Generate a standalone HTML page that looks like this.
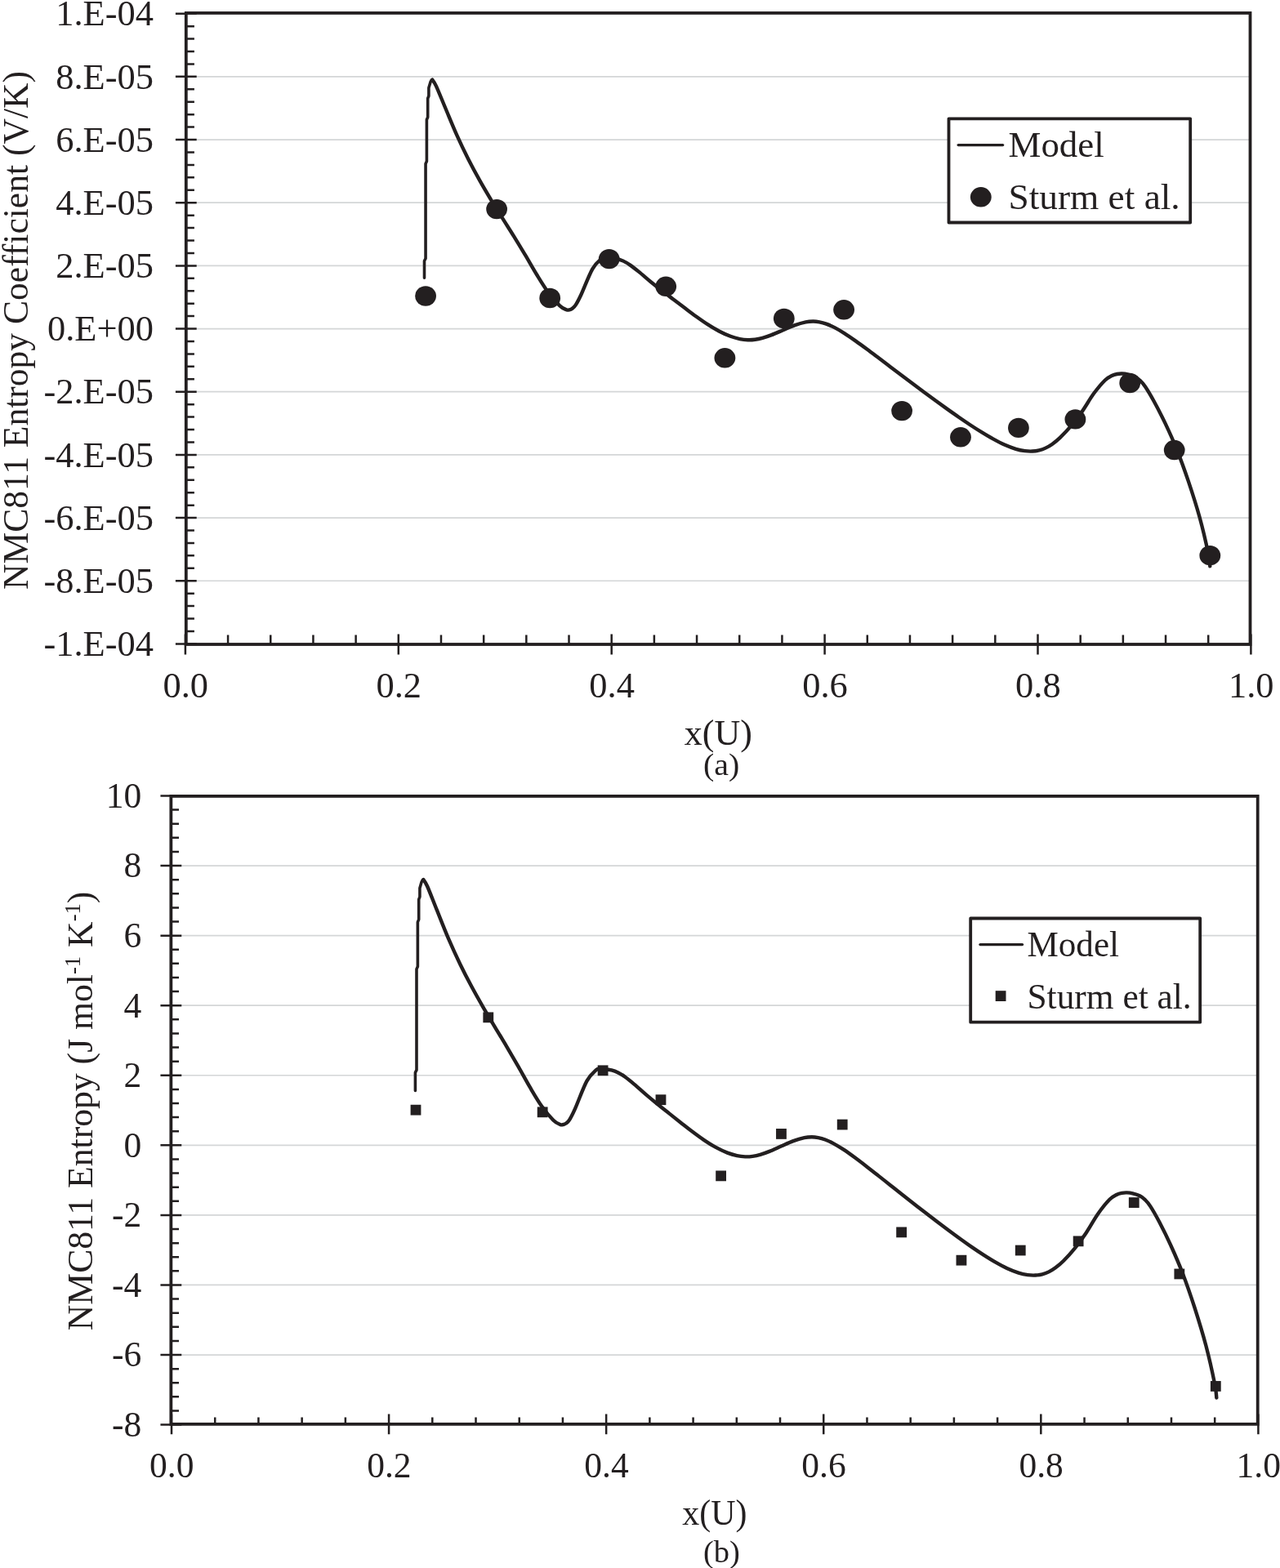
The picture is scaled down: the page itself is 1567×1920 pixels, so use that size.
<!DOCTYPE html>
<html lang="en"><head><meta charset="utf-8"><title>NMC811 entropy coefficient and entropy vs x(U)</title>
<style>html,body{margin:0;padding:0;background:#fff;overflow:hidden}svg{display:block}text{font-family:"Liberation Serif",serif;font-size:45px;fill:#231f20}</style></head>
<body><svg width="1567" height="1920" viewBox="0 0 1567 1920">
<rect width="1567" height="1920" fill="#fff"/>
<g class="chart chart-a">
<g class="grid" stroke="#d4d6d7" stroke-width="1.7" fill="none">
<path d="M226.9 93.87H1531.4M226.9 171.04H1531.4M226.9 248.21H1531.4M226.9 325.38H1531.4M226.9 402.55H1531.4M226.9 479.72H1531.4M226.9 556.89H1531.4M226.9 634.06H1531.4M226.9 711.23H1531.4"/>
</g>
<rect class="legend-box" x="1161.5" y="145.3" width="295.7" height="127.2" fill="#fff" stroke="none"/>
<g class="axes" stroke="#231f20" fill="none" stroke-linecap="butt">
<rect class="frame" x="227.8" y="15.95" width="1302.7" height="773.05" stroke-width="3.8"/>
<path class="ticks-major" stroke-width="2.5" d="M214.9 16.7H240.7M214.9 93.87H240.7M214.9 171.04H240.7M214.9 248.21H240.7M214.9 325.38H240.7M214.9 402.55H240.7M214.9 479.72H240.7M214.9 556.89H240.7M214.9 634.06H240.7M214.9 711.23H240.7M214.9 788.4H240.7M226.9 776.6V801.4M487.8 776.6V801.4M748.7 776.6V801.4M1009.6 776.6V801.4M1270.5 776.6V801.4M1531.4 776.6V801.4"/>
<path class="ticks-minor" stroke-width="2.5" d="M227.8 32.13H237.9M227.8 47.57H237.9M227.8 63H237.9M227.8 78.44H237.9M227.8 109.3H237.9M227.8 124.74H237.9M227.8 140.17H237.9M227.8 155.61H237.9M227.8 186.47H237.9M227.8 201.91H237.9M227.8 217.34H237.9M227.8 232.78H237.9M227.8 263.64H237.9M227.8 279.08H237.9M227.8 294.51H237.9M227.8 309.95H237.9M227.8 340.81H237.9M227.8 356.25H237.9M227.8 371.68H237.9M227.8 387.12H237.9M227.8 417.98H237.9M227.8 433.42H237.9M227.8 448.85H237.9M227.8 464.29H237.9M227.8 495.15H237.9M227.8 510.59H237.9M227.8 526.02H237.9M227.8 541.46H237.9M227.8 572.32H237.9M227.8 587.76H237.9M227.8 603.19H237.9M227.8 618.63H237.9M227.8 649.49H237.9M227.8 664.93H237.9M227.8 680.36H237.9M227.8 695.8H237.9M227.8 726.66H237.9M227.8 742.1H237.9M227.8 757.53H237.9M227.8 772.97H237.9M279.08 789V777.4M331.26 789V777.4M383.44 789V777.4M435.62 789V777.4M539.98 789V777.4M592.16 789V777.4M644.34 789V777.4M696.52 789V777.4M800.88 789V777.4M853.06 789V777.4M905.24 789V777.4M957.42 789V777.4M1061.78 789V777.4M1113.96 789V777.4M1166.14 789V777.4M1218.32 789V777.4M1322.68 789V777.4M1374.86 789V777.4M1427.04 789V777.4M1479.22 789V777.4"/>
</g>
<g class="model" fill="none" stroke="#231f20" stroke-linejoin="round" stroke-linecap="round">
<path stroke-width="3.6" d="M519.5 340.2L519.5 319.5L521.05 316.5L521.05 200.5L522.4 197.5L522.4 146.5L523.7 143.5L523.7 120.5L524.9 117.5L524.9 107.5L526.1 103.5L527 100.4L528 98.5L529.2 97.6"/>
<path stroke-width="4.4" d="M529.2 97.6C529.99 98.89 531.27 99.55 533.94 105.32C536.61 111.09 541.02 122.23 545.24 132.24C549.46 142.25 554.57 154.95 559.24 165.36C563.91 175.77 568.57 185.45 573.24 194.7C577.91 203.95 582.57 212.53 587.24 220.88C591.91 229.23 596.57 237.06 601.24 244.81C605.91 252.56 610.57 259.9 615.24 267.37C619.91 274.84 624.57 282.05 629.24 289.61C633.91 297.17 638.57 304.89 643.24 312.71C647.91 320.53 652.57 328.94 657.24 336.51C661.91 344.08 666.57 351.82 671.24 358.12C675.91 364.42 681.55 370.82 685.24 374.33C688.93 377.84 691.39 378.38 693.39 379.2C695.39 380.02 696.02 379.53 697.23 379.28C698.44 379.03 699.39 378.7 700.65 377.72C701.91 376.74 703 376.2 704.78 373.42C706.56 370.64 707.89 368.37 711.31 361.02C714.73 353.67 721.09 336.77 725.31 329.35C729.53 321.93 734.05 318.81 736.65 316.49C739.25 314.17 739.36 315.61 740.93 315.43C742.5 315.25 743.73 315.21 746.08 315.43C748.44 315.65 752.23 316.07 755.06 316.77C757.89 317.47 760.37 318.37 763.04 319.63C765.71 320.89 767.91 322.12 771.11 324.32C774.31 326.52 778.05 329.46 782.24 332.85C786.43 336.24 791.57 340.85 796.24 344.68C800.91 348.51 805.57 352.2 810.24 355.83C814.91 359.46 819.57 362.94 824.24 366.48C828.91 370.02 833.57 373.56 838.24 377.06C842.91 380.56 847.57 384.14 852.24 387.49C856.91 390.84 861.57 394.17 866.24 397.17C870.91 400.17 875.57 403.05 880.24 405.49C884.91 407.93 890 410.21 894.24 411.81C898.48 413.41 902.14 414.33 905.68 415.07C909.22 415.81 912.36 416.11 915.48 416.23C918.6 416.35 921.4 416.17 924.4 415.78C927.4 415.39 930.13 414.82 933.49 413.88C936.85 412.94 940.38 411.75 944.56 410.14C948.74 408.53 953.89 406.2 958.56 404.24C963.23 402.28 967.92 400.04 972.56 398.4C977.2 396.76 982.59 395.19 986.42 394.38C990.25 393.57 992.72 393.55 995.52 393.54C998.32 393.53 1000.55 393.81 1003.22 394.33C1005.89 394.84 1008.53 395.53 1011.55 396.63C1014.57 397.73 1017.65 399.01 1021.33 400.92C1025.01 402.83 1029.26 405.31 1033.65 408.09C1038.04 410.87 1042.98 414.33 1047.65 417.61C1052.32 420.89 1056.98 424.33 1061.65 427.78C1066.32 431.23 1070.98 434.77 1075.65 438.29C1080.32 441.81 1084.98 445.37 1089.65 448.91C1094.32 452.45 1098.98 456 1103.65 459.52C1108.32 463.04 1112.98 466.56 1117.65 470.06C1122.32 473.56 1126.98 477.05 1131.65 480.51C1136.32 483.97 1140.98 487.4 1145.65 490.8C1150.32 494.2 1154.98 497.57 1159.65 500.9C1164.32 504.22 1168.98 507.53 1173.65 510.75C1178.32 513.97 1182.98 517.16 1187.65 520.23C1192.32 523.3 1196.98 526.3 1201.65 529.16C1206.32 532.02 1210.98 534.84 1215.65 537.4C1220.32 539.96 1224.98 542.46 1229.65 544.53C1234.32 546.6 1239.47 548.55 1243.65 549.82C1247.83 551.1 1251.32 551.72 1254.71 552.18C1258.1 552.64 1261.09 552.71 1263.99 552.57C1266.89 552.44 1269.48 552.03 1272.14 551.37C1274.8 550.71 1277.3 549.86 1279.94 548.62C1282.58 547.38 1285.03 546.05 1288 543.92C1290.97 541.79 1293.96 539.52 1297.78 535.85C1301.6 532.18 1306.37 527.25 1310.89 521.88C1315.41 516.51 1320.22 510.27 1324.89 503.63C1329.56 496.99 1334.22 488.42 1338.89 482.06C1343.56 475.7 1349.17 469.13 1352.89 465.46C1356.61 461.78 1358.76 461.25 1361.2 460.01C1363.64 458.77 1365.45 458.41 1367.55 458C1369.64 457.59 1371.59 457.49 1373.77 457.56C1375.95 457.63 1378.07 457.83 1380.62 458.44C1383.17 459.05 1386.64 460.06 1389.07 461.23C1391.5 462.4 1393.09 463.48 1395.22 465.48C1397.36 467.48 1398.98 468.95 1401.88 473.25C1404.78 477.55 1408.51 483.71 1412.63 491.28C1416.76 498.85 1421.96 508.83 1426.63 518.67C1431.3 528.51 1435.96 538.67 1440.63 550.33C1445.3 562 1449.96 574.79 1454.63 588.66C1459.3 602.53 1464.54 618.7 1468.63 633.54C1472.73 648.38 1477.09 667.73 1479.2 677.71C1481.31 687.69 1480.95 690.78 1481.3 693.4"/>
</g>
<g class="markers" fill="#231f20">
<ellipse cx="521.06" cy="362.5" rx="12.9" ry="12.2"/>
<ellipse cx="608.1" cy="256.1" rx="12.9" ry="12.2"/>
<ellipse cx="673.2" cy="365" rx="12.9" ry="12.2"/>
<ellipse cx="745.7" cy="317.1" rx="12.9" ry="12.2"/>
<ellipse cx="815.2" cy="350.8" rx="12.9" ry="12.2"/>
<ellipse cx="887.4" cy="438.3" rx="12.9" ry="12.2"/>
<ellipse cx="959.8" cy="390" rx="12.9" ry="12.2"/>
<ellipse cx="1033.1" cy="379.3" rx="12.9" ry="12.2"/>
<ellipse cx="1104.1" cy="503.1" rx="12.9" ry="12.2"/>
<ellipse cx="1176" cy="535.3" rx="12.9" ry="12.2"/>
<ellipse cx="1246.9" cy="523.9" rx="12.9" ry="12.2"/>
<ellipse cx="1316.4" cy="513.4" rx="12.9" ry="12.2"/>
<ellipse cx="1383.2" cy="469" rx="12.9" ry="12.2"/>
<ellipse cx="1437.7" cy="551.05" rx="12.9" ry="12.2"/>
<ellipse cx="1481.3" cy="680.15" rx="12.9" ry="12.2"/>
</g>
<g class="legend">
<rect x="1161.5" y="145.3" width="295.7" height="127.2" fill="none" stroke="#231f20" stroke-width="3.8" stroke-linejoin="round"/>
<path d="M1173.2 177.6H1227.6" stroke="#231f20" stroke-width="3.4" stroke-linecap="round" fill="none"/>
<ellipse cx="1200.8" cy="241.3" rx="12.9" ry="12.2" fill="#231f20"/>
<text transform="translate(1234.5 191.8) scale(0.9973 1)">Model</text>
<text transform="translate(1234.5 255.8) scale(1.0071 1)">Sturm et al.</text>
</g>
<g class="ylabels">
<text transform="translate(187.9 31.4) scale(0.9876 1)" text-anchor="end">1.E-04</text>
<text transform="translate(187.9 108.57) scale(0.9876 1)" text-anchor="end">8.E-05</text>
<text transform="translate(187.9 185.74) scale(0.9876 1)" text-anchor="end">6.E-05</text>
<text transform="translate(187.9 262.91) scale(0.9876 1)" text-anchor="end">4.E-05</text>
<text transform="translate(187.9 340.08) scale(0.9876 1)" text-anchor="end">2.E-05</text>
<text transform="translate(187.9 417.25) scale(0.9876 1)" text-anchor="end">0.E+00</text>
<text transform="translate(187.9 494.42) scale(0.9876 1)" text-anchor="end">-2.E-05</text>
<text transform="translate(187.9 571.59) scale(0.9876 1)" text-anchor="end">-4.E-05</text>
<text transform="translate(187.9 648.76) scale(0.9876 1)" text-anchor="end">-6.E-05</text>
<text transform="translate(187.9 725.93) scale(0.9876 1)" text-anchor="end">-8.E-05</text>
<text transform="translate(187.9 803.1) scale(0.9876 1)" text-anchor="end">-1.E-04</text>
</g>
<g class="xlabels">
<text transform="translate(227.3 854.3) scale(0.9876 1)" text-anchor="middle">0.0</text>
<text transform="translate(488.2 854.3) scale(0.9876 1)" text-anchor="middle">0.2</text>
<text transform="translate(749.1 854.3) scale(0.9876 1)" text-anchor="middle">0.4</text>
<text transform="translate(1010 854.3) scale(0.9876 1)" text-anchor="middle">0.6</text>
<text transform="translate(1270.9 854.3) scale(0.9876 1)" text-anchor="middle">0.8</text>
<text transform="translate(1531.8 854.3) scale(0.9876 1)" text-anchor="middle">1.0</text>
</g>
<text transform="translate(33.7 404.5) rotate(-90) scale(0.9680 1)" text-anchor="middle">NMC811 Entropy Coefficient (V/K)</text>
<text transform="translate(879.4 912.3) scale(0.9778 1)" text-anchor="middle">x(U)</text>
<text transform="translate(883.1 948.7) scale(1.05 1)" text-anchor="middle" style="font-size:38px">(a)</text>
</g>
<g class="chart chart-b">
<g class="grid" stroke="#d4d6d7" stroke-width="1.7" fill="none">
<path d="M210 1060.07H1540.4M210 1145.63H1540.4M210 1231.2H1540.4M210 1316.77H1540.4M210 1402.33H1540.4M210 1487.9H1540.4M210 1573.47H1540.4M210 1659.03H1540.4"/>
</g>
<rect class="legend-box" x="1188.2" y="1124.5" width="281" height="127.2" fill="#fff" stroke="none"/>
<g class="axes" stroke="#231f20" fill="none" stroke-linecap="butt">
<rect class="frame" x="209.35" y="974.9" width="1330.35" height="768.95" stroke-width="3.8"/>
<path class="ticks-major" stroke-width="2.5" d="M196.45 974.5H222.25M196.45 1060.07H222.25M196.45 1145.63H222.25M196.45 1231.2H222.25M196.45 1316.77H222.25M196.45 1402.33H222.25M196.45 1487.9H222.25M196.45 1573.47H222.25M196.45 1659.03H222.25M196.45 1744.6H222.25M210 1731.45V1756.25M476.08 1731.45V1756.25M742.16 1731.45V1756.25M1008.24 1731.45V1756.25M1274.32 1731.45V1756.25M1540.4 1731.45V1756.25"/>
<path class="ticks-minor" stroke-width="2.5" d="M209.35 991.61H219M209.35 1008.73H219M209.35 1025.84H219M209.35 1042.95H219M209.35 1077.18H219M209.35 1094.29H219M209.35 1111.41H219M209.35 1128.52H219M209.35 1162.75H219M209.35 1179.86H219M209.35 1196.97H219M209.35 1214.09H219M209.35 1248.31H219M209.35 1265.43H219M209.35 1282.54H219M209.35 1299.65H219M209.35 1333.88H219M209.35 1350.99H219M209.35 1368.11H219M209.35 1385.22H219M209.35 1419.45H219M209.35 1436.56H219M209.35 1453.67H219M209.35 1470.79H219M209.35 1505.01H219M209.35 1522.13H219M209.35 1539.24H219M209.35 1556.35H219M209.35 1590.58H219M209.35 1607.69H219M209.35 1624.81H219M209.35 1641.92H219M209.35 1676.15H219M209.35 1693.26H219M209.35 1710.37H219M209.35 1727.49H219M263.22 1743.85V1735.6M316.43 1743.85V1735.6M369.65 1743.85V1735.6M422.86 1743.85V1735.6M529.3 1743.85V1735.6M582.51 1743.85V1735.6M635.73 1743.85V1735.6M688.94 1743.85V1735.6M795.38 1743.85V1735.6M848.59 1743.85V1735.6M901.81 1743.85V1735.6M955.02 1743.85V1735.6M1061.46 1743.85V1735.6M1114.67 1743.85V1735.6M1167.89 1743.85V1735.6M1221.1 1743.85V1735.6M1327.54 1743.85V1735.6M1380.75 1743.85V1735.6M1433.97 1743.85V1735.6M1487.18 1743.85V1735.6"/>
</g>
<g class="model" fill="none" stroke="#231f20" stroke-linejoin="round" stroke-linecap="round">
<path stroke-width="3.6" d="M508.41 1335.4L508.41 1313.35L509.99 1310.16L509.99 1186.62L511.37 1183.42L511.37 1129.11L512.69 1125.91L512.69 1101.42L513.92 1098.22L513.92 1087.57L515.14 1083.31L516.06 1080.01L517.08 1077.99L518.3 1077.03"/>
<path stroke-width="4.4" d="M518.3 1077.03C519.11 1078.4 520.41 1079.1 523.14 1085.25C525.86 1091.4 530.36 1103.26 534.66 1113.92C538.96 1124.58 544.18 1138.11 548.94 1149.19C553.7 1160.28 558.46 1170.58 563.22 1180.44C567.98 1190.29 572.73 1199.43 577.49 1208.32C582.25 1217.22 587.01 1225.55 591.77 1233.81C596.53 1242.06 601.29 1249.88 606.05 1257.83C610.81 1265.79 615.57 1273.47 620.33 1281.52C625.09 1289.57 629.85 1297.8 634.61 1306.12C639.37 1314.45 644.12 1323.41 648.88 1331.47C653.64 1339.53 658.4 1347.77 663.16 1354.48C667.92 1361.2 673.68 1368 677.44 1371.75C681.21 1375.49 683.71 1376.05 685.75 1376.93C687.79 1377.81 688.43 1377.28 689.67 1377.02C690.9 1376.75 691.87 1376.4 693.16 1375.36C694.44 1374.32 695.56 1373.74 697.37 1370.78C699.18 1367.81 700.54 1365.39 704.03 1357.57C707.52 1349.75 714 1331.75 718.31 1323.84C722.61 1315.94 727.22 1312.62 729.87 1310.15C732.53 1307.68 732.63 1309.21 734.24 1309.02C735.84 1308.83 737.09 1308.78 739.49 1309.02C741.89 1309.26 745.76 1309.7 748.65 1310.44C751.53 1311.19 754.06 1312.15 756.78 1313.49C759.51 1314.83 761.75 1316.14 765.01 1318.49C768.28 1320.83 772.09 1323.96 776.37 1327.57C780.64 1331.18 785.88 1336.09 790.64 1340.17C795.4 1344.25 800.16 1348.17 804.92 1352.04C809.68 1355.91 814.44 1359.62 819.2 1363.39C823.96 1367.15 828.72 1370.92 833.48 1374.65C838.24 1378.38 843 1382.19 847.76 1385.76C852.52 1389.33 857.27 1392.88 862.03 1396.07C866.79 1399.27 871.55 1402.33 876.31 1404.93C881.07 1407.53 886.27 1409.96 890.59 1411.66C894.91 1413.36 898.65 1414.35 902.26 1415.13C905.87 1415.92 909.07 1416.24 912.25 1416.37C915.43 1416.5 918.29 1416.31 921.35 1415.89C924.41 1415.47 927.19 1414.87 930.62 1413.87C934.05 1412.87 937.65 1411.59 941.91 1409.88C946.17 1408.17 951.43 1405.68 956.19 1403.6C960.95 1401.52 965.73 1399.13 970.46 1397.38C975.2 1395.63 980.7 1393.96 984.6 1393.1C988.5 1392.24 991.02 1392.21 993.88 1392.2C996.74 1392.2 999.01 1392.5 1001.73 1393.05C1004.46 1393.59 1007.15 1394.33 1010.23 1395.5C1013.31 1396.66 1016.45 1398.03 1020.2 1400.06C1023.96 1402.1 1028.29 1404.74 1032.77 1407.7C1037.24 1410.66 1042.29 1414.34 1047.05 1417.84C1051.8 1421.33 1056.56 1425 1061.32 1428.67C1066.08 1432.34 1070.84 1436.11 1075.6 1439.86C1080.36 1443.61 1085.12 1447.41 1089.88 1451.17C1094.64 1454.94 1099.4 1458.72 1104.16 1462.47C1108.92 1466.23 1113.68 1469.97 1118.44 1473.7C1123.19 1477.42 1127.95 1481.15 1132.71 1484.83C1137.47 1488.51 1142.23 1492.17 1146.99 1495.79C1151.75 1499.41 1156.51 1503 1161.27 1506.54C1166.03 1510.08 1170.79 1513.6 1175.55 1517.03C1180.31 1520.46 1185.07 1523.86 1189.83 1527.13C1194.58 1530.4 1199.34 1533.59 1204.1 1536.64C1208.86 1539.69 1213.62 1542.69 1218.38 1545.42C1223.14 1548.14 1227.9 1550.8 1232.66 1553.01C1237.42 1555.21 1242.68 1557.28 1246.94 1558.64C1251.2 1560 1254.76 1560.67 1258.22 1561.16C1261.67 1561.64 1264.72 1561.72 1267.68 1561.57C1270.64 1561.43 1273.28 1560.99 1275.99 1560.29C1278.7 1559.59 1281.25 1558.69 1283.95 1557.36C1286.64 1556.04 1289.14 1554.63 1292.17 1552.36C1295.2 1550.09 1298.25 1547.68 1302.14 1543.76C1306.03 1539.85 1310.9 1534.61 1315.51 1528.89C1320.12 1523.17 1325.03 1516.52 1329.79 1509.45C1334.55 1502.38 1339.31 1493.25 1344.07 1486.48C1348.83 1479.7 1354.55 1472.71 1358.35 1468.8C1362.14 1464.89 1364.33 1464.32 1366.82 1462.99C1369.31 1461.67 1371.16 1461.29 1373.3 1460.85C1375.43 1460.42 1377.42 1460.31 1379.64 1460.39C1381.86 1460.46 1384.03 1460.67 1386.63 1461.32C1389.23 1461.97 1392.76 1463.04 1395.24 1464.29C1397.73 1465.54 1399.34 1466.69 1401.52 1468.82C1403.69 1470.95 1405.35 1472.52 1408.31 1477.1C1411.27 1481.67 1415.06 1488.24 1419.27 1496.3C1423.48 1504.36 1428.79 1514.99 1433.55 1525.47C1438.31 1535.95 1443.07 1546.76 1447.83 1559.19C1452.59 1571.61 1457.35 1585.24 1462.11 1600.01C1466.87 1614.78 1472.21 1632 1476.38 1647.8C1480.56 1663.61 1485.01 1684.22 1487.16 1694.85C1489.32 1705.47 1488.95 1708.77 1489.31 1711.56"/>
</g>
<g class="markers" fill="#231f20">
<rect x="502.6" y="1352.75" width="12.8" height="12.8"/>
<rect x="591.37" y="1239.43" width="12.8" height="12.8"/>
<rect x="657.76" y="1355.41" width="12.8" height="12.8"/>
<rect x="731.7" y="1304.4" width="12.8" height="12.8"/>
<rect x="802.58" y="1340.29" width="12.8" height="12.8"/>
<rect x="876.21" y="1433.47" width="12.8" height="12.8"/>
<rect x="950.05" y="1382.03" width="12.8" height="12.8"/>
<rect x="1024.81" y="1370.64" width="12.8" height="12.8"/>
<rect x="1097.22" y="1502.49" width="12.8" height="12.8"/>
<rect x="1170.54" y="1536.78" width="12.8" height="12.8"/>
<rect x="1242.85" y="1524.64" width="12.8" height="12.8"/>
<rect x="1313.73" y="1513.46" width="12.8" height="12.8"/>
<rect x="1381.86" y="1466.17" width="12.8" height="12.8"/>
<rect x="1437.44" y="1553.55" width="12.8" height="12.8"/>
<rect x="1481.91" y="1691.04" width="12.8" height="12.8"/>
</g>
<g class="legend">
<rect x="1188.2" y="1124.5" width="281" height="127.2" fill="none" stroke="#231f20" stroke-width="3.8" stroke-linejoin="round"/>
<path d="M1200 1156.6H1251.5" stroke="#231f20" stroke-width="3.4" stroke-linecap="round" fill="none"/>
<rect x="1218.7" y="1213.2" width="12.8" height="12.8" fill="#231f20"/>
<text transform="translate(1257.5 1170.8) scale(0.9582 1)">Model</text>
<text transform="translate(1257.5 1234.8) scale(0.9641 1)">Sturm et al.</text>
</g>
<g class="ylabels">
<text transform="translate(173.3 988.8) scale(0.968 1)" text-anchor="end">10</text>
<text transform="translate(173.3 1074.37) scale(0.968 1)" text-anchor="end">8</text>
<text transform="translate(173.3 1159.93) scale(0.968 1)" text-anchor="end">6</text>
<text transform="translate(173.3 1245.5) scale(0.968 1)" text-anchor="end">4</text>
<text transform="translate(173.3 1331.07) scale(0.968 1)" text-anchor="end">2</text>
<text transform="translate(173.3 1416.63) scale(0.968 1)" text-anchor="end">0</text>
<text transform="translate(173.3 1502.2) scale(0.968 1)" text-anchor="end">-2</text>
<text transform="translate(173.3 1587.77) scale(0.968 1)" text-anchor="end">-4</text>
<text transform="translate(173.3 1673.33) scale(0.968 1)" text-anchor="end">-6</text>
<text transform="translate(173.3 1758.9) scale(0.968 1)" text-anchor="end">-8</text>
</g>
<g class="xlabels">
<text transform="translate(210.3 1809.3) scale(0.968 1)" text-anchor="middle">0.0</text>
<text transform="translate(476.38 1809.3) scale(0.968 1)" text-anchor="middle">0.2</text>
<text transform="translate(742.46 1809.3) scale(0.968 1)" text-anchor="middle">0.4</text>
<text transform="translate(1008.54 1809.3) scale(0.968 1)" text-anchor="middle">0.6</text>
<text transform="translate(1274.62 1809.3) scale(0.968 1)" text-anchor="middle">0.8</text>
<text transform="translate(1540.7 1809.3) scale(0.968 1)" text-anchor="middle">1.0</text>
</g>
<text transform="translate(113.1 1360.4) rotate(-90) scale(0.9704 1)" text-anchor="middle">NMC811 Entropy (J mol<tspan style="font-size:27.5px" dy="-15.3">-1</tspan><tspan dy="15.3"> K</tspan><tspan style="font-size:27.5px" dy="-15.3">-1</tspan><tspan dy="15.3">)</tspan></text>
<text transform="translate(874.8 1867) scale(0.9318 1)" text-anchor="middle">x(U)</text>
<text x="883.4" y="1913" text-anchor="middle" style="font-size:38.5px">(b)</text>
</g>
</svg></body></html>
